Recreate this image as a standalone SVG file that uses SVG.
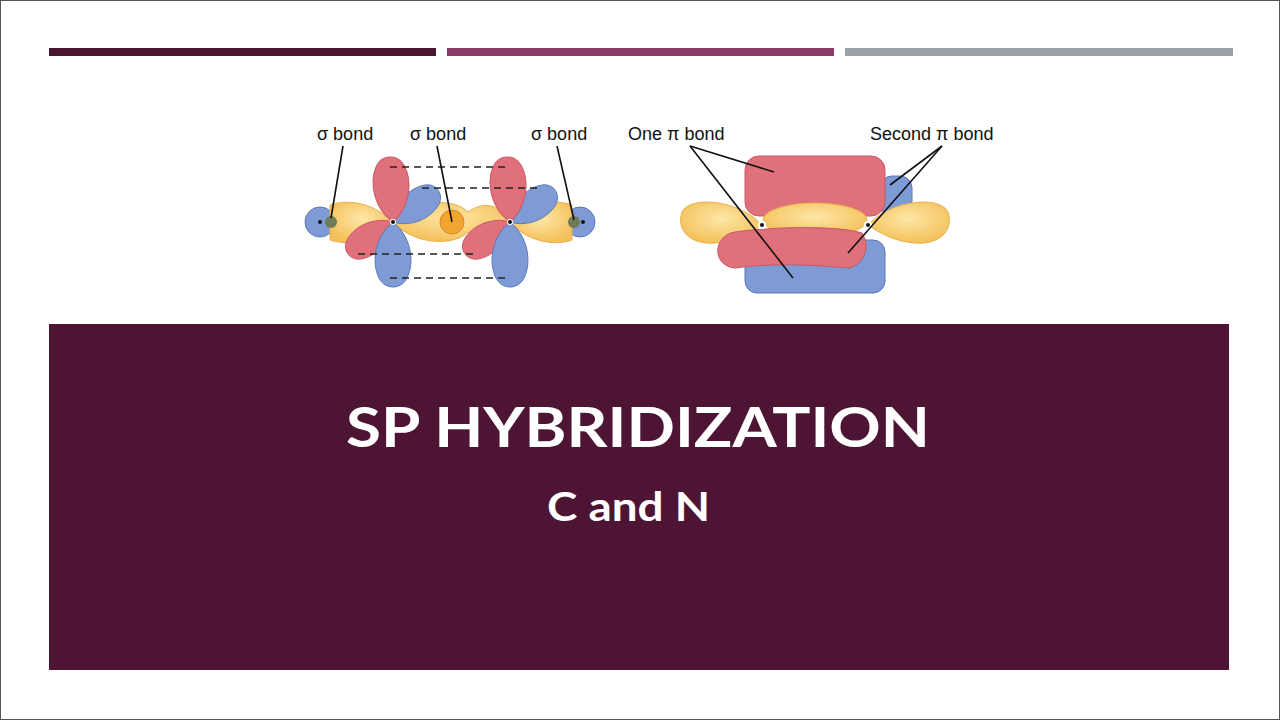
<svg xmlns="http://www.w3.org/2000/svg" width="1280" height="720" viewBox="0 0 1280 720">
<defs>
<style>
.lbl{font-family:"Liberation Sans",Arial,sans-serif;font-size:18px;fill:#111}
.ld{stroke:#111;stroke-width:1.6;fill:none}
.dash{stroke:#222;stroke-width:1.3;stroke-dasharray:7 5}
.red{fill:#e0707a;stroke:#c85866;stroke-width:1}
.blue{fill:#7f9bd6;stroke:#5b76b8;stroke-width:1}
.yel{fill:#f8cf72;stroke:#e9b14c;stroke-width:1}
</style>
<radialGradient id="gy" cx="0.5" cy="0.4" r="0.6"><stop offset="0" stop-color="#fde7a6"/><stop offset="1" stop-color="#f4c05a"/></radialGradient>
<path id="tear" d="M0,0 C-18,-14 -22,-40 -14,-56 C-8,-68 8,-68 14,-56 C22,-40 18,-14 0,0Z"/>
</defs>
<rect x="0" y="0" width="1280" height="720" fill="#fff"/>
<rect x="0.5" y="0.5" width="1279" height="719" fill="none" stroke="#555" stroke-width="1"/>
<rect x="49" y="48" width="387" height="8" fill="#4a1530"/>
<rect x="447" y="48" width="387" height="8" fill="#8b3a6a"/>
<rect x="845" y="48" width="388" height="8" fill="#9ba1a8"/>

<g id="sigma-figure">
<circle cx="320" cy="222" r="15" class="blue"/>
<circle cx="580" cy="222" r="15" class="blue"/>
<path class="yel" style="fill:url(#gy)" d="M393,222 C370,200 345,200 330,205 L330,240 C345,245 370,245 393,222Z"/>
<path class="yel" style="fill:url(#gy)" d="M393,222 C415,198 455,198 468,212 C485,200 500,205 510,222 C500,239 485,244 468,232 C455,246 415,246 393,222Z"/>
<path class="yel" style="fill:url(#gy)" d="M510,222 C530,200 560,200 572,205 L572,240 C560,245 530,245 510,222Z"/>
<circle cx="452" cy="222" r="12" fill="#f2a530" stroke="#d88a20"/>
<circle cx="331" cy="222" r="6" fill="#707a55"/>
<circle cx="574" cy="222" r="6" fill="#707a55"/>
<g transform="translate(393,222)">
<use href="#tear" class="blue" transform="rotate(55) scale(0.85)"/>
<use href="#tear" class="red" transform="rotate(-3)"/>
<use href="#tear" class="red" transform="rotate(235) scale(0.85)"/>
<use href="#tear" class="blue" transform="rotate(180)"/>
</g>
<g transform="translate(510,222)">
<use href="#tear" class="blue" transform="rotate(55) scale(0.85)"/>
<use href="#tear" class="red" transform="rotate(-3)"/>
<use href="#tear" class="red" transform="rotate(235) scale(0.85)"/>
<use href="#tear" class="blue" transform="rotate(180)"/>
</g>
<circle cx="320" cy="222" r="2" fill="#111"/>
<circle cx="583" cy="222" r="2" fill="#111"/>
<circle cx="393" cy="222" r="3" fill="#fff"/><circle cx="393" cy="222" r="2" fill="#111"/>
<circle cx="510" cy="222" r="3" fill="#fff"/><circle cx="510" cy="222" r="2" fill="#111"/>
<line class="dash" x1="390" y1="167" x2="507" y2="167"/>
<line class="dash" x1="422" y1="188" x2="537" y2="188"/>
<line class="dash" x1="358" y1="254" x2="475" y2="254"/>
<line class="dash" x1="390" y1="278" x2="507" y2="278"/>
<text class="lbl" x="317" y="140">σ bond</text>
<text class="lbl" x="410" y="140">σ bond</text>
<text class="lbl" x="531" y="140">σ bond</text>
</g>

<g id="pi-figure">
<rect x="880" y="176" width="32" height="40" rx="12" class="blue"/>
<path class="yel" style="fill:url(#gy)" d="M762,225 C740,200 690,195 682,212 C676,230 690,245 715,243 C735,242 752,232 762,225Z"/>
<path class="yel" style="fill:url(#gy)" d="M868,225 C890,200 940,195 948,212 C954,230 940,245 915,243 C895,242 878,232 868,225Z"/>
<rect x="745" y="240" width="140" height="53" rx="12" class="blue"/>
<rect x="745" y="156" width="140" height="60" rx="14" class="red"/>
<ellipse cx="815" cy="220" rx="52" ry="17" class="yel" style="fill:url(#gy)"/>
<path class="red" d="M735,232 C780,226 840,226 862,233 C870,245 866,262 850,268 C820,266 780,262 735,268 C712,266 712,236 735,232Z"/>
<circle cx="762" cy="225" r="4" fill="#fff"/><circle cx="762" cy="225" r="2" fill="#111"/>
<circle cx="868" cy="225" r="4" fill="#fff"/><circle cx="868" cy="225" r="2" fill="#111"/>
<text class="lbl" x="628" y="140">One π bond</text>
<text class="lbl" x="870" y="140">Second π bond</text>
</g>

<g id="connectors">
<line class="ld" x1="343" y1="146" x2="331" y2="218"/>
<line class="ld" x1="437" y1="146" x2="452" y2="222"/>
<line class="ld" x1="557" y1="146" x2="574" y2="220"/>
<line class="ld" x1="690" y1="146" x2="774" y2="172"/>
<line class="ld" x1="690" y1="146" x2="793" y2="278"/>
<line class="ld" x1="942" y1="146" x2="890" y2="185"/>
<line class="ld" x1="942" y1="146" x2="848" y2="253"/>
</g>

<g id="title-box">
<rect x="49" y="324" width="1180" height="346" fill="#4d1434"/>
<text x="346" y="447" textLength="584" lengthAdjust="spacingAndGlyphs" font-family="Lato,'Open Sans',sans-serif" font-weight="bold" font-size="56" fill="#fff">SP HYBRIDIZATION</text>
<text x="547" y="521" textLength="163" lengthAdjust="spacingAndGlyphs" font-family="Lato,'Open Sans',sans-serif" font-weight="bold" font-size="40" fill="#fff">C and N</text>
</g>
</svg>
